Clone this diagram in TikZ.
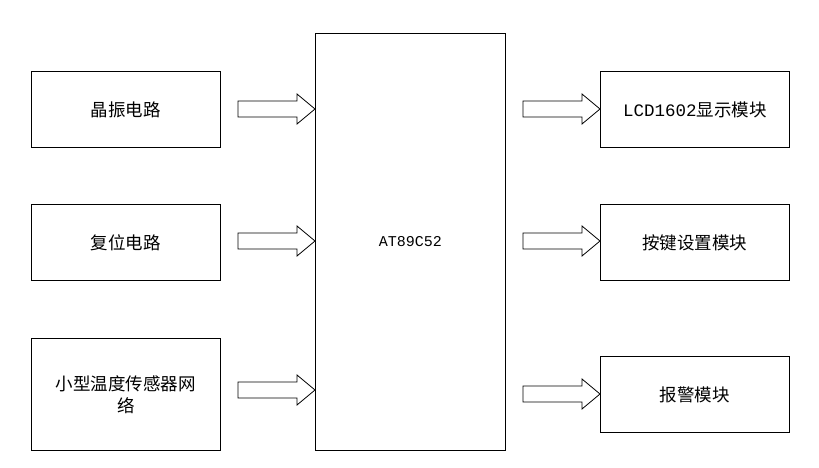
\documentclass[tikz,border=0pt]{standalone}
\usepackage{fontspec}
\newfontfamily\cjk{Noto Sans CJK SC}
\setmonofont{Liberation Mono}
\begin{document}
\begin{tikzpicture}[x=1pt,y=-1pt,
  blk/.style={draw,line width=0.8pt,minimum width=189pt,anchor=north west,inner sep=2pt,font=\cjk\fontsize{17.5}{22}\selectfont,align=center,text width=185pt},
  fat/.style={draw,line width=0.8pt,fill=white}]
\useasboundingbox (0,0) rectangle (819,468);
\node[blk,minimum height=76pt] (a) at (31,71) {晶振电路};
\node[blk,minimum height=76pt] (b) at (31,204) {复位电路};
\node[blk,minimum height=112pt] (c) at (31,338) {小型温度传感器网\\络};
\node[draw,line width=0.8pt,minimum width=190pt,minimum height=417pt,anchor=north west,font=\ttfamily\fontsize{15}{18}\selectfont] (m) at (315,33) {AT89C52};
\node[blk,minimum height=76pt] (d) at (600,71) {{\ttfamily LCD1602}显示模块};
\node[blk,minimum height=76pt] (e) at (600,204) {按键设置模块};
\node[blk,minimum height=76pt] (f) at (600,356) {报警模块};
\newcommand\harrow[2]{%
  \draw[fat] (#1,#2-8) -- ++(59,0) -- ++(0,-7) -- ++(18,15) -- ++(-18,15) -- ++(0,-7) -- ++(-59,0) -- cycle;}
\harrow{238}{109}
\harrow{238}{241}
\harrow{238}{390}
\harrow{523}{109}
\harrow{523}{241}
\harrow{523}{394}
\end{tikzpicture}
\end{document}
